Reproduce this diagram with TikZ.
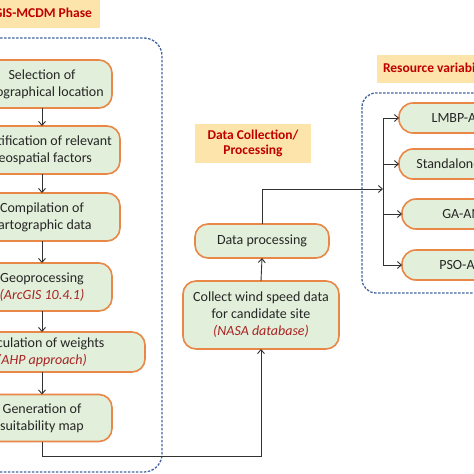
\documentclass[tikz,border=0pt]{standalone}
\usepackage{fontspec}
\setmainfont{Carlito}
\usetikzlibrary{arrows.meta}
\definecolor{boxfill}{RGB}{226,239,218}
\definecolor{boxdraw}{RGB}{232,135,70}
\definecolor{titlefill}{RGB}{252,228,170}
\definecolor{titletxt}{RGB}{192,0,0}
\definecolor{ital}{RGB}{170,35,35}
\definecolor{txt}{RGB}{38,38,38}
\definecolor{grpblue}{RGB}{68,101,160}
\definecolor{arrgray}{RGB}{50,50,50}
\tikzset{
  box/.style={draw=boxdraw, fill=boxfill, line width=1.6pt, rounded corners=13pt, align=center,
    font=\fontsize{14}{17}\selectfont, text=txt, inner sep=2pt, outer sep=0pt},
  pill/.style={box, rounded corners=14pt, minimum width=128pt, minimum height=30pt},
  ttl/.style={fill=titlefill, font=\bfseries\fontsize{13.5}{15.5}\selectfont, text=titletxt, align=center, outer sep=0pt},
  grp/.style={draw=grpblue, line width=1.3pt, dash pattern=on 2.5pt off 1.5pt},
  arr/.style={draw=arrgray, line width=0.9pt, -{Straight Barb[length=4pt,width=7pt]}},
  ln/.style={draw=arrgray, line width=0.9pt}
}
\newcommand{\itl}[1]{{\itshape\color{ital}#1}}
\begin{document}
\begin{tikzpicture}[x=1pt,y=-1pt]
\useasboundingbox (0,0) rectangle (474,474);
\clip (0,0) rectangle (474,474);
\fill[white] (0,0) rectangle (474,474);
% group frames
\draw[grp, rounded corners=18pt] (-20,38) rectangle (162,472);
\draw[grp, rounded corners=14pt] (362,93) rectangle (520,293);
% titles
\node[ttl, anchor=east, minimum height=29pt, inner xsep=8pt] (t1) at (100,13) {GIS-MCDM Phase};
\node[ttl, minimum width=116pt, minimum height=39pt] (t2) at (253,143.5) {Data Collection/\\Processing};
\node[ttl, anchor=west, minimum height=28pt, inner xsep=6pt] (t3) at (377,69) {Resource variability};
% left column
\node[box, minimum width=140pt, minimum height=48pt] (b1) at (42,84) {Selection of\\Geographical location};
\node[box, minimum width=156pt, minimum height=48pt] (b2) at (42,150) {Identification of relevant\\geospatial factors};
\node[box, minimum width=156pt, minimum height=48pt] (b3) at (42,217) {Compilation of\\cartographic data};
\node[box, minimum width=140pt, minimum height=48pt] (b4) at (42,287) {Geoprocessing\\\itl{(ArcGIS 10.4.1)}};
\node[box, minimum width=206pt, minimum height=40pt] (b5) at (42,352) {Calculation of weights\\\itl{(AHP approach)}};
\node[box, minimum width=140pt, minimum height=47pt] (b6) at (42,418) {Generation of\\suitability map};
% middle
\node[box, minimum width=156pt, minimum height=68pt] (col) at (261,315) {Collect wind speed data\\for candidate site\\\itl{(NASA database)}};
\node[box, minimum width=134pt, minimum height=34pt] (dp) at (262,241) {Data processing};
% right
\node[pill] (r1) at (463,118) {LMBP-ANN};
\node[pill] (r2) at (463,164) {Standalone ANN};
\node[pill] (r3) at (466,214) {GA-ANN};
\node[pill] (r4) at (466,265) {PSO-ANN};
% connectors
\draw[arr] (b1.south) -- (b2.north);
\draw[arr] (b2.south) -- (b3.north);
\draw[arr] (b3.south) -- (b4.north);
\draw[arr] (b4.south) -- (b5.north);
\draw[arr] (b5.south) -- (b6.north);
\draw[arr] (b6.south) -- ++(0,15) -| (col.south);
\draw[arr] (col.north) -- (dp.south);
\coordinate (bus) at (383,189);
\draw[arr] (dp.north) |- (bus);
\draw[ln] (bus |- r1.west) -- (bus |- r4.west);
\draw[arr] (bus |- r1.west) -- (r1.west);
\draw[arr] (bus |- r2.west) -- (r2.west);
\draw[arr] (bus |- r3.west) -- (r3.west);
\draw[arr] (bus |- r4.west) -- (r4.west);
\end{tikzpicture}
\end{document}
